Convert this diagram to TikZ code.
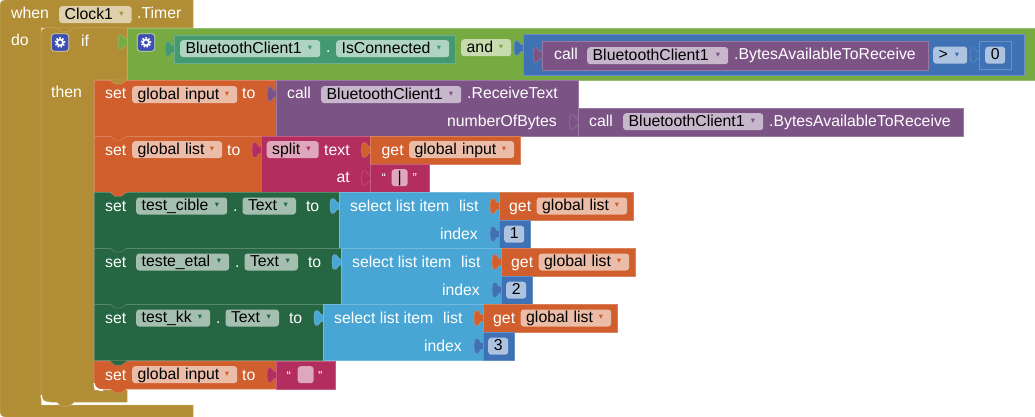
\documentclass[tikz,border=0pt]{standalone}
\usepackage{fontspec}
\setmainfont{Liberation Sans}
\newfontfamily\trifont{DejaVu Sans}
\definecolor{ctrlbrown}{HTML}{B18E35}
\definecolor{logicgreen}{HTML}{77AB41}
\definecolor{compteal}{HTML}{439970}
\definecolor{mathblue}{HTML}{3F71B5}
\definecolor{procpurple}{HTML}{7C5385}
\definecolor{varorange}{HTML}{D05F2D}
\definecolor{textred}{HTML}{B32D5E}
\definecolor{setgreen}{HTML}{266643}
\definecolor{listblue}{HTML}{49A6D4}
\definecolor{gearblue}{HTML}{3D4FB0}
\tikzset{
	blockbox/.style={fill=#1, draw=#1!78!white, line width=.5pt},
	lbl/.style={anchor=base west, inner sep=0pt, text=white},
	lblright/.style={anchor=base east, inner sep=0pt, text=white},
	quotelbl/.style={lbl, font=\fontsize{13}{15}\selectfont},
	fieldshape/.style={anchor=north west, fill=#1!42!white, rounded corners=3pt, inner xsep=5.5pt, inner ysep=0pt, text=black, text height=13pt, text depth=4pt},
	gearbox/.style={fill=gearblue, draw=#1, line width=.7pt, rounded corners=3pt, minimum size=17.5pt, inner sep=0pt},
	blocktab/.pic={
		\draw[blockbox=#1] (.5,-3) .. controls (-2,-3) and (-2.8,-3.5) .. (-3.2,-5) .. controls (-3.6,-7) and (-6,-8.2) .. (-7.6,-7.2) .. controls (-9.4,-4.5) and (-9.4,4.5) .. (-7.6,7.2) .. controls (-6,8.2) and (-3.6,7) .. (-3.2,5) .. controls (-2.8,3.5) and (-2,3) .. (.5,3);
		\fill[#1] (.6,-3.2) rectangle (-1,3.2);
	},
	blocknotch/.pic={
		\fill[#1] (16,-.3) -- (21,4) -- (27,4) -- (33,-.3) -- cycle;
		\draw[#1!78!white, line width=.5pt] (16,0) -- (21,4) -- (27,4) -- (33,0);
	},
}
\newcommand{\dropmark}[1]{\textcolor{#1}{\raisebox{2.6pt}{\trifont\fontsize{8.5}{10}\selectfont ▾}}\hspace*{2.5pt}}
\newcommand{\fieldbox}[6]{
	\pgfmathsetmacro{\fw}{(#4)-(#3)-11}
	\node[fieldshape=#2, text width=\fw pt] (#1) at (#3,#5) {#6\hfill\dropmark{#2}};
}
\newcommand{\numfield}[6]{
	\pgfmathsetmacro{\fw}{(#4)-(#3)}
	\node[fieldshape=#2, minimum width=\fw pt, align=center, inner xsep=0pt] (#1) at (#3,#5) {#6};
}
\newcommand{\gearicon}[3]{
	\node[gearbox=#3] (#1) at (#2) {};
	\draw[white, line width=1.7pt] (#1) circle (3pt);
	\draw[white, line width=1.7pt, dash pattern=on 1.5pt off 1.6pt] (#1) circle (4.6pt);
}
\begin{document}
\begin{tikzpicture}[x=1pt, y=-1pt, font=\fontsize{15.8}{19}\selectfont, line join=round]
	\useasboundingbox (0,0) rectangle (1035,417);
	\draw[blockbox=ctrlbrown] (0,412) -- (0,5) .. controls (0,2) and (2,0) .. (5,0) -- (193,0) -- (193,28) -- (41,28) -- (41,405) -- (193,405) -- (193,417) -- (5,417) .. controls (2,417) and (0,415) .. (0,412) -- cycle;
	\draw[blockbox=ctrlbrown] (41,397) -- (41,33) .. controls (41,30) and (43,28) .. (46,28) -- (127,28) -- (127,80) -- (94,80) -- (94,390) -- (127,390) -- (127,402) -- (46,402) .. controls (43,402) and (41,400) .. (41,397) -- cycle;
	\path (41,28) pic {blocknotch=ctrlbrown} (41,402.5) pic {blocknotch=ctrlbrown};
	\fill[white] (40.5,395) .. controls (40.5,400) and (43,403.4) .. (50,403.4) -- (50,402) .. controls (44,402) and (42,400) .. (42,395) -- cycle;
	\node[lbl] (whenlbl) at (11,19) {when};
	\fieldbox{clock}{ctrlbrown}{59}{131.5}{6}{Clock1}
	\node[lbl] (timerlbl) at (137,19) {.Timer};
	\node[lbl] (dolbl) at (11,46) {do};
	\gearicon{gearif}{60,42.5}{ctrlbrown!40!white}
	\node[lbl] (iflbl) at (81,47) {if};
	\node[lbl] (thenlbl) at (51,98) {then};
	\path (127,42) pic {blocktab=logicgreen};
	\draw[blockbox=logicgreen] (127,28) rectangle (1035,80);
	\gearicon{gearand}{146,42.5}{logicgreen!40!white}
	\path (174,49) pic {blocktab=compteal};
	\draw[blockbox=compteal] (174,35) rectangle (455,63);
	\fieldbox{btcond}{compteal}{180}{320}{40}{BluetoothClient1}
	\node[lbl] (dotcond) at (326,53) {.};
	\fieldbox{isconn}{compteal}{336}{449}{40}{IsConnected}
	\fieldbox{andop}{logicgreen}{461}{511}{39}{and}
	\path (523,48) pic {blocktab=mathblue};
	\draw[blockbox=mathblue] (523,34) rectangle (1024,75);
	\path (542,55) pic {blocktab=procpurple};
	\draw[blockbox=procpurple] (542,41) rectangle (928,70);
	\node[lbl] (callcond) at (554,60) {call};
	\fieldbox{btavail}{procpurple}{587}{728}{47}{BluetoothClient1}
	\node[lbl] (bytescond) at (734,60) {.BytesAvailableToReceive};
	\fieldbox{gtop}{mathblue}{933}{967}{46.5}{>}
	\path (979,55) pic {blocktab=mathblue};
	\draw[blockbox=mathblue] (979,41) rectangle (1011,69);
	\numfield{zero}{mathblue}{985}{1005}{46.5}{0}
	\draw[blockbox=varorange] (94,80) rectangle (276,136);
	\path (94,80) pic {blocknotch=ctrlbrown};
	\node[lbl] (setinput) at (105,99) {set};
	\fieldbox{varinput}{varorange}{132}{237}{86}{global input}
	\node[lbl] (toinput) at (242,99) {to};
	\path (276,94) pic {blocktab=procpurple};
	\draw[blockbox=procpurple] (276,80) rectangle (578.5,136);
	\node[lbl] (callrecv) at (287,99) {call};
	\fieldbox{btrecv}{procpurple}{321}{461}{86}{BluetoothClient1}
	\node[lbl] (recvlbl) at (467,99) {.ReceiveText};
	\node[lblright] (nbytes) at (557,126) {numberOfBytes};
	\path (578.5,122) pic {blocktab=procpurple};
	\draw[blockbox=procpurple] (578.5,108) rectangle (963.5,136);
	\node[lbl] (callbytes) at (589,126) {call};
	\fieldbox{btbytes}{procpurple}{623}{763}{113}{BluetoothClient1}
	\node[lbl] (byteslbl) at (769,126) {.BytesAvailableToReceive};
	\draw[blockbox=varorange] (94,136) rectangle (261,192);
	\path (94,136) pic {blocknotch=varorange};
	\node[lbl] (setlist) at (105,155) {set};
	\fieldbox{varlist}{varorange}{132}{222}{141}{global list}
	\node[lbl] (tolist) at (227,155) {to};
	\path (261,150) pic {blocktab=textred};
	\draw[blockbox=textred] (261,136) rectangle (370.5,192);
	\fieldbox{split}{textred}{266.5}{318.5}{141}{split}
	\node[lbl] (textlbl) at (324,155) {text};
	\node[lbl] (atlbl) at (336.5,182.5) {at};
	\path (370.5,150) pic {blocktab=varorange};
	\draw[blockbox=varorange] (370.5,136) rectangle (520,164);
	\node[lbl] (getinput) at (381.5,155) {get};
	\fieldbox{varget}{varorange}{409}{514}{141}{global input}
	\path (370.5,178) pic {blocktab=textred};
	\draw[blockbox=textred] (370.5,164) rectangle (429.5,192);
	\node[quotelbl] (openbar) at (381.5,182) {“};
	\numfield{bar}{textred}{391.5}{407.5}{169}{|}
	\node[quotelbl] (closebar) at (412.5,182) {”};
	\foreach \rowy/\nam/\wid/\dx/\idx in {192/test\_cible/91/0/1, 248/teste\_etal/93/2/2, 304/test\_kk/74/-16/3} {
		\pgfmathsetmacro{\ya}{\rowy+5.3}
		\pgfmathsetmacro{\yb}{\rowy+19}
		\pgfmathsetmacro{\yc}{\rowy+33.5}
		\pgfmathsetmacro{\yd}{\rowy+47}
		\pgfmathsetmacro{\xa}{136+\wid}
		\pgfmathsetmacro{\xb}{151.3+\wid}
		\pgfmathsetmacro{\xc}{204.8+\wid}
		\draw[blockbox=setgreen] (94,\rowy) rectangle (339+\dx,\rowy+56);
		\node[lbl] (set\idx) at (105,\yb) {set};
		\fieldbox{comp\idx}{setgreen}{136}{\xa}{\ya}{\nam}
		\node[lbl] (dot\idx) at (\xa+6,\yb) {.};
		\fieldbox{prop\idx}{setgreen}{\xb}{\xc}{\ya}{Text}
		\node[lbl] (to\idx) at (\xc+10,\yb) {to};
		\path (339+\dx,\rowy+14) pic {blocktab=listblue};
		\draw[blockbox=listblue] (339+\dx,\rowy) rectangle (499+\dx,\rowy+56);
		\node[lbl] (select\idx) at (350+\dx,\yb) {select list item};
		\node[lbl] (list\idx) at (459+\dx,\yb) {list};
		\node[lblright] (index\idx) at (478+\dx,\yd) {index};
		\path (499+\dx,\rowy+14) pic {blocktab=varorange};
		\draw[blockbox=varorange] (499+\dx,\rowy) rectangle (633.5+\dx,\rowy+28);
		\node[lbl] (get\idx) at (509+\dx,\yb) {get};
		\fieldbox{var\idx}{varorange}{536.5+\dx}{627+\dx}{\ya}{global list}
		\path (499+\dx,\rowy+42) pic {blocktab=mathblue};
		\draw[blockbox=mathblue] (499+\dx,\rowy+28) rectangle (530+\dx,\rowy+56);
		\numfield{num\idx}{mathblue}{504+\dx}{524+\dx}{\yc}{\idx}
	}
	\path (94,192) pic {blocknotch=varorange} (94,248) pic {blocknotch=setgreen} (94,304) pic {blocknotch=setgreen};
	\draw[blockbox=varorange] (94,361) -- (276,361) -- (276,389) -- (100,389) .. controls (96.5,389) and (94,386.5) .. (94,383) -- cycle;
	\path (94,361) pic {blocknotch=setgreen} (94,388.7) pic {blocknotch=varorange};
	\node[lbl] (setclear) at (105,380) {set};
	\fieldbox{varclear}{varorange}{132}{237}{366}{global input}
	\node[lbl] (toclear) at (242,380) {to};
	\path (276,375) pic {blocktab=textred};
	\draw[blockbox=textred] (276,361) rectangle (335.5,389);
	\node[quotelbl] (openempty) at (286.5,380) {“};
	\numfield{empty}{textred}{297.5}{313.5}{366}{}
	\node[quotelbl] (closeempty) at (318,380) {”};
	\fill[white] (93.6,383) .. controls (93.6,388) and (96,391) .. (103,391) -- (103,389.4) .. controls (98,389.4) and (95,387) .. (94.6,383) -- cycle;
\end{tikzpicture}
\end{document}
